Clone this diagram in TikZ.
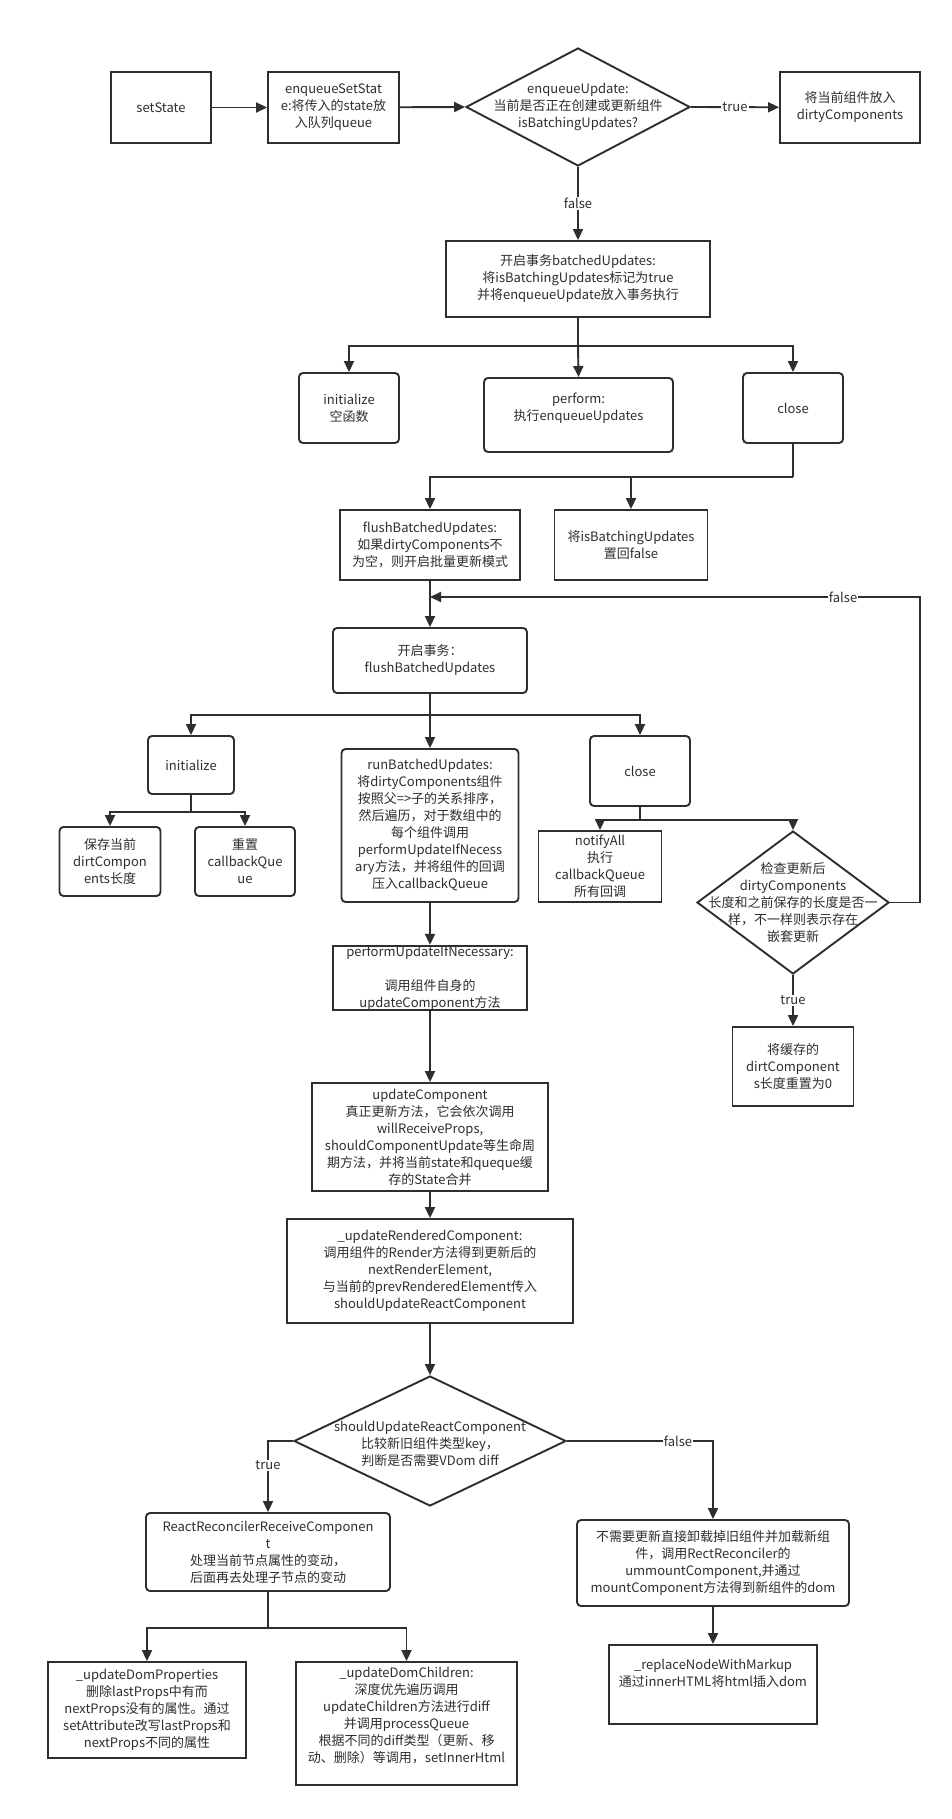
\documentclass[tikz,border=0pt]{standalone}
\usepackage{fontspec}
\setmainfont{Noto Sans CJK SC}
\usetikzlibrary{arrows.meta,shapes.geometric}
\definecolor{ink}{HTML}{2E2E2E}
\begin{document}
\begin{tikzpicture}[x=1pt,y=-1pt,
  every node/.style={font=\fontsize{13}{17}\selectfont, text=ink},
  box/.style={draw=ink, line width=1.9pt, align=center, inner sep=0pt},
  rbox/.style={box, rounded corners=4pt},
  dia/.style={diamond, draw=ink, line width=1.9pt, inner sep=0pt},
  arr/.style={draw=ink, line width=1.9pt, -{Triangle[length=11pt,width=10pt]}},
  ln/.style={draw=ink, line width=1.9pt},
  lbl/.style={fill=white, inner sep=1pt}]
\useasboundingbox[fill=white] (0,0) rectangle (952,1819);

% top row
\node[box, minimum width=100pt, minimum height=71pt] (setstate) at (161,107.5) {setState};
\node[box, minimum width=131pt, minimum height=71pt] (enq) at (333.5,107.5) {enqueueSetStat\\e:将传入的state放\\入队列queue};
\node[dia, minimum width=224pt, minimum height=118pt] (d1) at (578,107) {};
\node[align=center] (d1t) at (d1) {enqueueUpdate:\\当前是否正在创建或更新组件\\isBatchingUpdates?};
\node[box, minimum width=140pt, minimum height=71pt] (dirty) at (850,107.5) {将当前组件放入\\dirtyComponents};
\draw[arr] (setstate) -- (enq);
\draw[arr] (enq) -- (d1.west);
\draw[arr] (d1.east) -- node[lbl]{true} (dirty);

% batchedUpdates
\node[box, minimum width=264pt, minimum height=76pt] (batched) at (578,279) {开启事务batchedUpdates:\\将isBatchingUpdates标记为true\\并将enqueueUpdate放入事务执行};
\draw[arr] (d1.south) -- node[lbl]{false} (batched);

\node[rbox, minimum width=100pt, minimum height=70pt] (init1) at (349,408) {initialize\\空函数};
\node[rbox, minimum width=189pt, minimum height=74pt] (perform) at (578.5,415) {perform:\\执行enqueueUpdates\\~};
\node[rbox, minimum width=100pt, minimum height=70pt] (close1) at (793,408) {close};
\coordinate (j1) at (578,346);
\draw[ln] (batched) -- (j1);
\draw[arr] (j1) -| (init1.north);
\draw[arr] (j1) -- (perform.north);
\draw[arr] (j1) -| (close1.north);

\node[box, minimum width=180pt, minimum height=70pt] (flush) at (430,545) {flushBatchedUpdates:\\如果dirtyComponents不\\为空，则开启批量更新模式};
\node[box, minimum width=153pt, minimum height=70pt] (isb) at (631,545) {将isBatchingUpdates\\置回false};
\coordinate (j2) at (793,477);
\draw[ln] (close1.south) -- (j2);
\draw[arr] (j2) -| (flush.north);
\draw[arr] (j2) -| (isb.north);

\node[rbox, minimum width=194pt, minimum height=65pt] (tx) at (430,660.5) {开启事务：\\flushBatchedUpdates};
\draw[arr] (flush) -- (tx);

% transaction branches
\node[rbox, minimum width=86pt, minimum height=58pt] (init2) at (191,765) {initialize};
\node[rbox, minimum width=177pt, minimum height=153pt] (run) at (430,825.5) {runBatchedUpdates:\\将dirtyComponents组件\\按照父=>子的关系排序，\\然后遍历，对于数组中的\\每个组件调用\\performUpdateIfNecess\\ary方法，并将组件的回调\\压入callbackQueue};
\node[rbox, minimum width=100pt, minimum height=70pt] (close2) at (640,771) {close};
\coordinate (j3) at (430,715);
\draw[ln] (tx) -- (j3);
\draw[arr] (j3) -| (init2.north);
\draw[arr] (j3) -- (run.north);
\draw[arr] (j3) -| (close2.north);

\node[rbox, minimum width=101pt, minimum height=69pt] (save) at (110,861.5) {保存当前\\dirtCompon\\ents长度};
\node[rbox, minimum width=100pt, minimum height=69pt] (reset) at (245,861.5) {重置\\callbackQue\\ue};
\coordinate (j4) at (191,812);
\draw[ln] (init2) -- (j4);
\draw[arr] (j4) -| (save.north);
\draw[arr] (j4) -| (reset.north);

\node[box, minimum width=123pt, minimum height=71pt] (notify) at (600,866.5) {notifyAll\\执行\\callbackQueue\\所有回调};
\node[dia, minimum width=192pt, minimum height=143pt] (d2) at (793,902.5) {};
\node[align=center] (d2t) at (d2) {检查更新后\\dirtyComponents\\长度和之前保存的长度是否一\\样，不一样则表示存在\\嵌套更新};
\coordinate (j5) at (640,820);
\draw[ln] (close2) -- (j5);
\draw[arr] (j5) -| (notify.north);
\draw[arr] (j5) -| (d2.north);

\node[box, minimum width=121pt, minimum height=79pt] (cache) at (793,1066.5) {将缓存的\\dirtComponent\\s长度重置为0};
\draw[arr] (d2.south) -- node[lbl]{true} (cache);

\coordinate (fr) at (920,597);
\draw[arr] (d2.east) -| (fr) -- node[lbl, pos=0.157]{false} (fr -| tx.north);

% main chain
\node[box, minimum width=194pt, minimum height=64pt] (pun) at (430,978) {performUpdateIfNecessary:\\[17pt]调用组件自身的\\updateComponent方法};
\draw[arr] (run) -- (pun);
\node[box, minimum width=236pt, minimum height=108pt] (uc) at (430,1137) {updateComponent\\真正更新方法，它会依次调用\\willReceiveProps,\\shouldComponentUpdate等生命周\\期方法，并将当前state和queque缓\\存的State合并};
\draw[arr] (pun) -- (uc);
\node[box, minimum width=286pt, minimum height=104pt] (urc) at (430,1271) {\_updateRenderedComponent:\\调用组件的Render方法得到更新后的\\nextRenderElement,\\与当前的prevRenderedElement传入\\shouldUpdateReactComponent};
\draw[arr] (uc) -- (urc);
\node[dia, minimum width=272pt, minimum height=130pt] (d3) at (430,1441) {};
\node[align=center] (d3t) at (430,1444) {shouldUpdateReactComponent\\比较新旧组件类型key，\\判断是否需要VDom diff};
\draw[arr] (urc) -- (d3.north);

\node[rbox, minimum width=244pt, minimum height=78pt] (rr) at (268,1552) {ReactReconcilerReceiveComponen\\t\\处理当前节点属性的变动，\\后面再去处理子节点的变动};
\draw[arr] (d3.west) -| node[lbl, pos=0.67]{true} (rr.north);

\node[box, minimum width=198pt, minimum height=96pt] (udp) at (147,1710) {\_updateDomProperties\\删除lastProps中有而\\nextProps没有的属性。通过\\setAttribute改写lastProps和\\nextProps不同的属性};
\node[box, minimum width=221pt, minimum height=123pt] (udc) at (406.5,1723.5) {\_updateDomChildren:\\深度优先遍历调用\\updateChildren方法进行diff\\并调用processQueue\\根据不同的diff类型（更新、移\\动、删除）等调用，setInnerHtml\\~};
\coordinate (j6) at (268,1628);
\draw[ln] (rr) -- (j6);
\draw[arr] (j6) -| (udp.north);
\draw[arr] (j6) -| (udc.north);

\node[rbox, minimum width=272pt, minimum height=86pt] (nr) at (713,1563) {不需要更新直接卸载掉旧组件并加载新组\\件，调用RectReconciler的\\ummountComponent,并通过\\mountComponent方法得到新组件的dom};
\draw[arr] (d3.east) -| node[lbl, pos=0.38]{false} (nr.north);
\node[box, minimum width=208pt, minimum height=79pt] (rep) at (713,1684.5) {\_replaceNodeWithMarkup\\通过innerHTML将html插入dom\\[6pt]};
\draw[arr] (nr) -- (rep);
\end{tikzpicture}
\end{document}
